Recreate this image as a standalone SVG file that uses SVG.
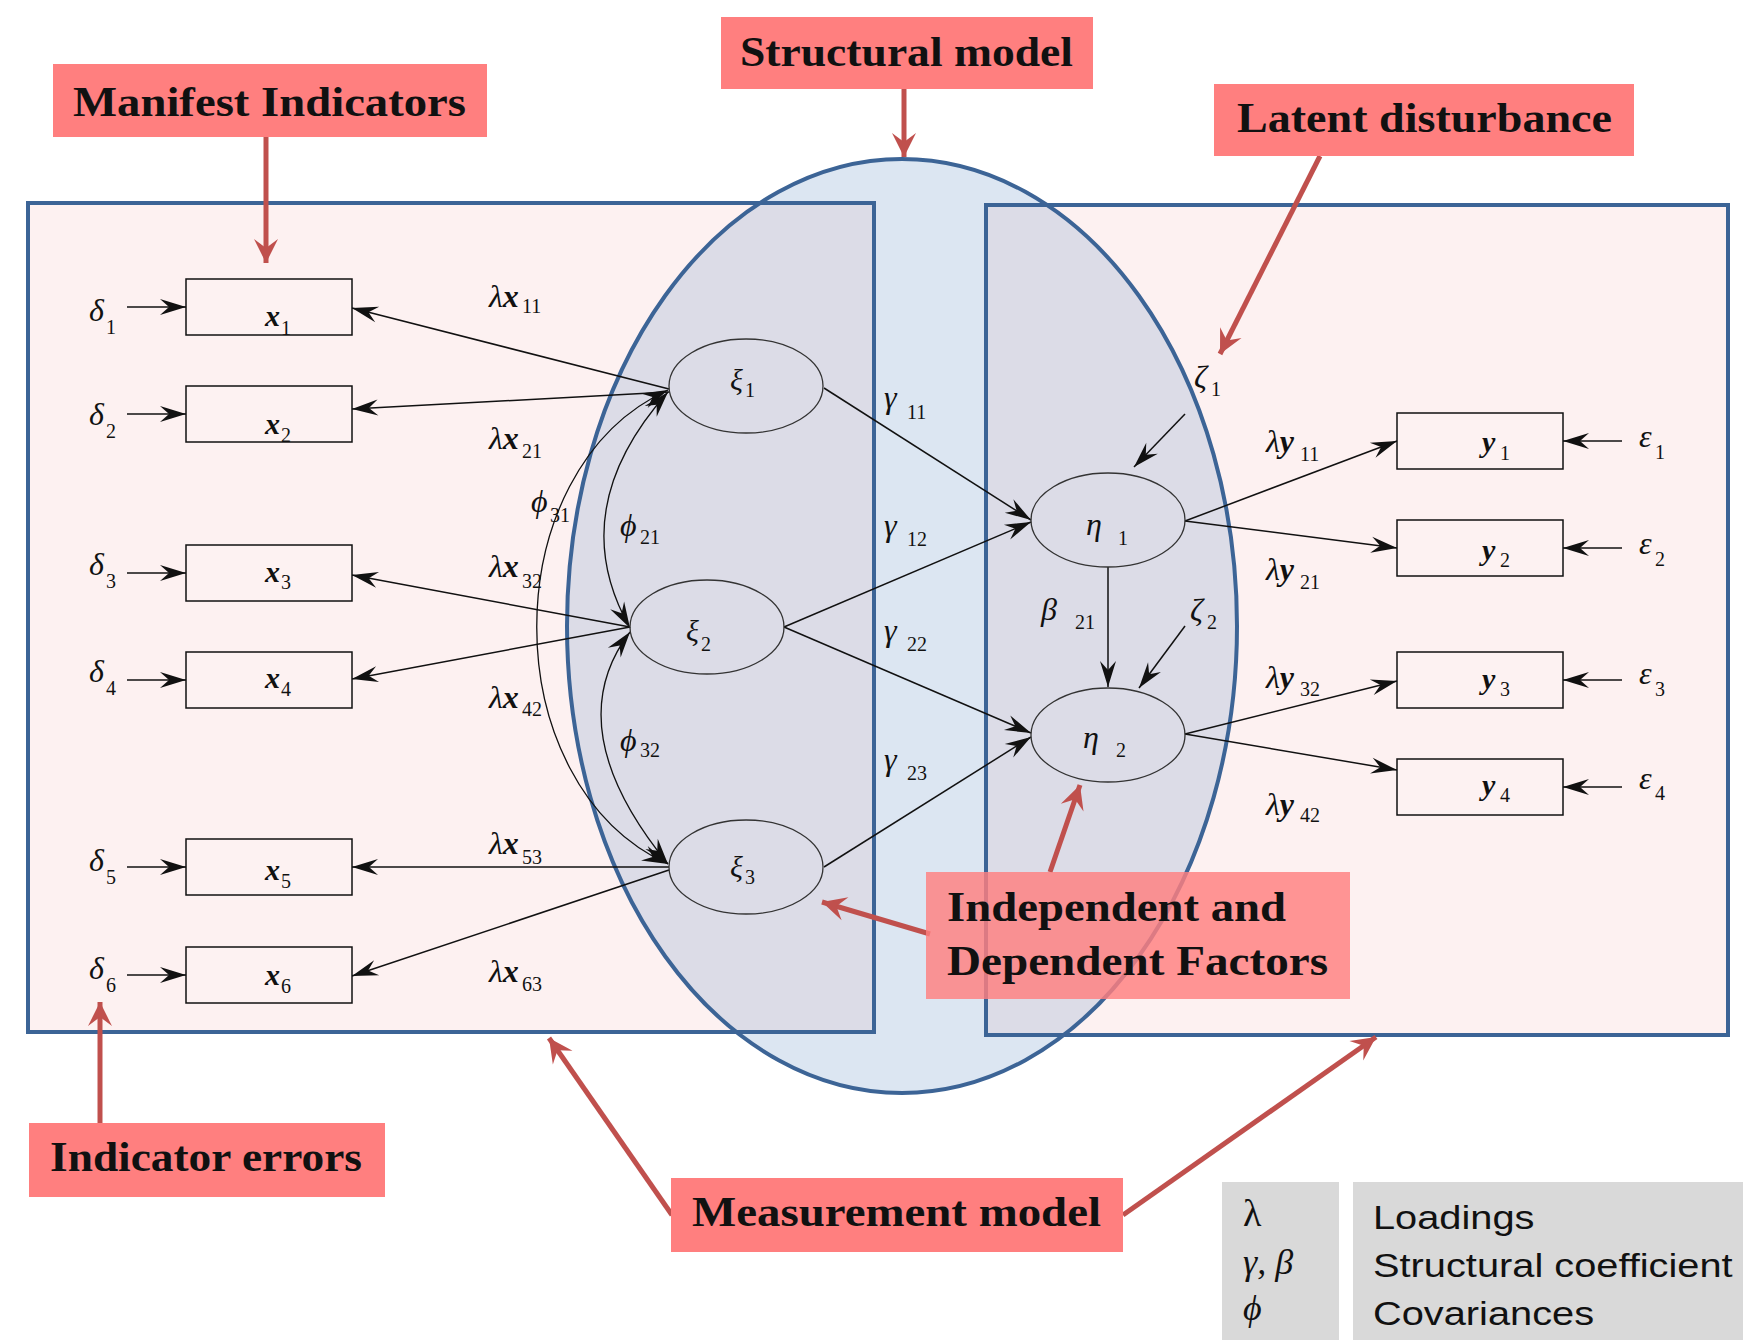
<svg xmlns="http://www.w3.org/2000/svg" width="1743" height="1340" viewBox="0 0 1743 1340">
<style>
.m{font-family:"Liberation Serif","DejaVu Serif",serif;font-style:italic;font-size:32px;fill:#111}
.b{font-weight:bold}
.s{font-size:20px;font-style:normal;font-weight:normal}
.bx{font-family:"Liberation Serif","DejaVu Serif",serif;font-style:italic;font-weight:bold;font-size:30px;fill:#111}
.ann{font-family:"Liberation Serif","DejaVu Serif",serif;font-weight:bold;font-size:43px;fill:#111}
.leg{font-family:"Liberation Sans",Arial,sans-serif;font-size:34px;fill:#111}
.box{fill:#fdf2f2;stroke:#111;stroke-width:1.5}
.node{fill:none;stroke:#333;stroke-width:1.3}
.c{fill:none;stroke:#111;stroke-width:1.5;marker-end:url(#ah)}
.cc{fill:none;stroke:#111;stroke-width:1.3;marker-end:url(#ah);marker-start:url(#ah)}
.r{fill:none;stroke:#c0504d;stroke-width:5;marker-end:url(#rh)}
.abox{fill:#ff7f7f}
.frame{fill:none;stroke:#3c6496;stroke-width:4}
</style>
<defs>
<marker id="ah" viewBox="-27 -9 28 18" refX="0" refY="0" markerWidth="28" markerHeight="18" markerUnits="userSpaceOnUse" orient="auto-start-reverse">
<path d="M0,0 L-26,-8 L-17,0 L-26,8 Z" fill="#111"/>
</marker>
<marker id="rh" viewBox="-25 -13 26 26" refX="0" refY="0" markerWidth="26" markerHeight="26" markerUnits="userSpaceOnUse" orient="auto">
<path d="M0,0 L-24,-12 L-15,0 L-24,12 Z" fill="#c0504d"/>
</marker>
<clipPath id="ellclip"><ellipse cx="902" cy="626" rx="335" ry="467"/></clipPath>
</defs>
<rect x="0" y="0" width="1743" height="1340" fill="#ffffff"/>

<g id="background">
<rect x="28" y="203" width="846" height="829" fill="#fdf1f1"/>
<rect x="986" y="205" width="742" height="830" fill="#fdf1f1"/>
<ellipse cx="902" cy="626" rx="335" ry="467" fill="#dce6f2"/>
<g clip-path="url(#ellclip)">
<rect x="28" y="203" width="846" height="829" fill="#dcdce7"/>
<rect x="986" y="205" width="742" height="830" fill="#dcdce7"/>
</g>
<rect class="frame" x="28" y="203" width="846" height="829"/>
<rect class="frame" x="986" y="205" width="742" height="830"/>
<ellipse class="frame" cx="902" cy="626" rx="335" ry="467"/>
</g>

<g id="connectors">
<path class="c" d="M127,307 L186,307"/>
<path class="c" d="M127,414 L186,414"/>
<path class="c" d="M127,573 L186,573"/>
<path class="c" d="M127,680 L186,680"/>
<path class="c" d="M127,867 L186,867"/>
<path class="c" d="M127,975 L186,975"/>
<path class="c" d="M1622,441 L1563,441"/>
<path class="c" d="M1622,548 L1563,548"/>
<path class="c" d="M1622,680 L1563,680"/>
<path class="c" d="M1622,787 L1563,787"/>
<path class="c" d="M669,389 L352,308"/>
<path class="c" d="M669,392 L352,409"/>
<path class="c" d="M630,627 L352,575"/>
<path class="c" d="M630,627 L352,679"/>
<path class="c" d="M669,867 L352,867"/>
<path class="c" d="M669,870 L352,976"/>
<path class="c" d="M824,388 L1031,520"/>
<path class="c" d="M784,627 L1031,522"/>
<path class="c" d="M784,627 L1031,733"/>
<path class="c" d="M824,867 L1031,737"/>
<path class="c" d="M1185,521 L1397,441"/>
<path class="c" d="M1185,521 L1397,548"/>
<path class="c" d="M1185,734 L1397,681"/>
<path class="c" d="M1185,734 L1397,770"/>
<path class="c" d="M1108,567 L1108,687"/>
<path class="c" d="M1185,414 L1134,467"/>
<path class="c" d="M1185,626 L1139,688"/>
<path class="cc" d="M668,392 Q563,510 630,628"/>
<path class="cc" d="M630,632 Q557,728 668,864"/>
<path class="cc" d="M668,390 C493,470 493,784 668,864"/>
<path class="r" d="M266,137 L266,263"/>
<path class="r" d="M904,89 L904,157"/>
<path class="r" d="M1320,156 L1220,354"/>
<path class="r" d="M100,1123 L100,1002"/>
<path class="r" d="M672,1215 L549,1038"/>
<path class="r" d="M1123,1215 L1376,1037"/>
<path class="r" d="M930,934 L822,902"/>
<path class="r" d="M1050,872 L1080,785"/>
</g>

<g id="x1"><rect class="box" x="186" y="279" width="166" height="56"/><text class="bx" x="265" y="326">x<tspan class="s" x="281" y="335">1</tspan></text></g>
<g id="x2"><rect class="box" x="186" y="386" width="166" height="56"/><text class="bx" x="265" y="434">x<tspan class="s" x="281" y="442">2</tspan></text></g>
<g id="x3"><rect class="box" x="186" y="545" width="166" height="56"/><text class="bx" x="265" y="582">x<tspan class="s" x="281" y="589">3</tspan></text></g>
<g id="x4"><rect class="box" x="186" y="652" width="166" height="56"/><text class="bx" x="265" y="688">x<tspan class="s" x="281" y="696">4</tspan></text></g>
<g id="x5"><rect class="box" x="186" y="839" width="166" height="56"/><text class="bx" x="265" y="880">x<tspan class="s" x="281" y="888">5</tspan></text></g>
<g id="x6"><rect class="box" x="186" y="947" width="166" height="56"/><text class="bx" x="265" y="985">x<tspan class="s" x="281" y="993">6</tspan></text></g>

<g id="y1"><rect class="box" x="1397" y="413" width="166" height="56"/><text class="bx" x="1482" y="452">y<tspan class="s" x="1500" y="460">1</tspan></text></g>
<g id="y2"><rect class="box" x="1397" y="520" width="166" height="56"/><text class="bx" x="1482" y="560">y<tspan class="s" x="1500" y="567">2</tspan></text></g>
<g id="y3"><rect class="box" x="1397" y="652" width="166" height="56"/><text class="bx" x="1482" y="689">y<tspan class="s" x="1500" y="696">3</tspan></text></g>
<g id="y4"><rect class="box" x="1397" y="759" width="166" height="56"/><text class="bx" x="1482" y="795">y<tspan class="s" x="1500" y="802">4</tspan></text></g>

<g id="xi1"><ellipse class="node" cx="746" cy="386" rx="77" ry="47"/><text class="m" x="730" y="390" style="font-size:30px">ξ<tspan class="s" x="745" y="397">1</tspan></text></g>
<g id="xi2"><ellipse class="node" cx="707" cy="627" rx="77" ry="47"/><text class="m" x="686" y="641" style="font-size:30px">ξ<tspan class="s" x="701" y="651">2</tspan></text></g>
<g id="xi3"><ellipse class="node" cx="746" cy="867" rx="77" ry="47"/><text class="m" x="730" y="877" style="font-size:30px">ξ<tspan class="s" x="745" y="884">3</tspan></text></g>
<g id="eta1"><ellipse class="node" cx="1108" cy="520" rx="77" ry="47"/><text class="m" x="1086" y="535">η<tspan class="s" x="1118" y="545">1</tspan></text></g>
<g id="eta2"><ellipse class="node" cx="1108" cy="735" rx="77" ry="47"/><text class="m" x="1083" y="748">η<tspan class="s" x="1116" y="757">2</tspan></text></g>

<g id="errors">
<text class="m" x="89" y="321">δ<tspan class="s" x="106" y="334">1</tspan></text>
<text class="m" x="89" y="425">δ<tspan class="s" x="106" y="438">2</tspan></text>
<text class="m" x="89" y="575">δ<tspan class="s" x="106" y="588">3</tspan></text>
<text class="m" x="89" y="682">δ<tspan class="s" x="106" y="695">4</tspan></text>
<text class="m" x="89" y="871">δ<tspan class="s" x="106" y="884">5</tspan></text>
<text class="m" x="89" y="979">δ<tspan class="s" x="106" y="992">6</tspan></text>
<text class="m" x="1639" y="447">ε<tspan class="s" x="1655" y="459">1</tspan></text>
<text class="m" x="1639" y="554">ε<tspan class="s" x="1655" y="566">2</tspan></text>
<text class="m" x="1639" y="684">ε<tspan class="s" x="1655" y="696">3</tspan></text>
<text class="m" x="1639" y="789">ε<tspan class="s" x="1655" y="800">4</tspan></text>
<text class="m" x="1194" y="388">ζ<tspan class="s" x="1211" y="396">1</tspan></text>
<text class="m" x="1190" y="621">ζ<tspan class="s" x="1207" y="629">2</tspan></text>
</g>

<g id="labels">
<text class="m" x="489" y="307">λ<tspan class="b">x</tspan><tspan class="s" x="522" y="313">11</tspan></text>
<text class="m" x="489" y="449">λ<tspan class="b">x</tspan><tspan class="s" x="522" y="458">21</tspan></text>
<text class="m" x="489" y="577">λ<tspan class="b">x</tspan><tspan class="s" x="522" y="588">32</tspan></text>
<text class="m" x="489" y="708">λ<tspan class="b">x</tspan><tspan class="s" x="522" y="716">42</tspan></text>
<text class="m" x="489" y="854">λ<tspan class="b">x</tspan><tspan class="s" x="522" y="864">53</tspan></text>
<text class="m" x="489" y="982">λ<tspan class="b">x</tspan><tspan class="s" x="522" y="991">63</tspan></text>
<text class="m" x="1266" y="452">λ<tspan class="b">y</tspan><tspan class="s" x="1300" y="461">11</tspan></text>
<text class="m" x="1266" y="580">λ<tspan class="b">y</tspan><tspan class="s" x="1300" y="589">21</tspan></text>
<text class="m" x="1266" y="688">λ<tspan class="b">y</tspan><tspan class="s" x="1300" y="696">32</tspan></text>
<text class="m" x="1266" y="815">λ<tspan class="b">y</tspan><tspan class="s" x="1300" y="822">42</tspan></text>
<text class="m" x="884" y="408">γ<tspan class="s" x="907" y="419">11</tspan></text>
<text class="m" x="884" y="536">γ<tspan class="s" x="907" y="546">12</tspan></text>
<text class="m" x="884" y="641">γ<tspan class="s" x="907" y="651">22</tspan></text>
<text class="m" x="884" y="770">γ<tspan class="s" x="907" y="780">23</tspan></text>
<text class="m" x="1041" y="620">β<tspan class="s" x="1075" y="629">21</tspan></text>
<text class="m" x="531" y="512">ϕ<tspan class="s" x="550" y="522">31</tspan></text>
<text class="m" x="620" y="536">ϕ<tspan class="s" x="640" y="544">21</tspan></text>
<text class="m" x="620" y="751">ϕ<tspan class="s" x="640" y="757">32</tspan></text>
</g>

<g id="ann-manifest"><rect class="abox" x="53" y="64" width="434" height="73"/><text class="ann" x="73" y="116" textLength="393" lengthAdjust="spacingAndGlyphs">Manifest Indicators</text></g>
<g id="ann-structural"><rect class="abox" x="721" y="17" width="372" height="72"/><text class="ann" x="740" y="66" textLength="333" lengthAdjust="spacingAndGlyphs">Structural model</text></g>
<g id="ann-latent"><rect class="abox" x="1214" y="84" width="420" height="72"/><text class="ann" x="1237" y="132" textLength="375" lengthAdjust="spacingAndGlyphs">Latent disturbance</text></g>
<g id="ann-errors"><rect class="abox" x="29" y="1123" width="356" height="74"/><text class="ann" x="50" y="1171" textLength="312" lengthAdjust="spacingAndGlyphs">Indicator errors</text></g>
<g id="ann-measurement"><rect class="abox" x="671" y="1178" width="452" height="74"/><text class="ann" x="692" y="1226" textLength="409" lengthAdjust="spacingAndGlyphs">Measurement model</text></g>
<g id="ann-factors"><rect class="abox" x="926" y="872" width="424" height="127" fill-opacity="0.82"/><text class="ann" x="947" y="921" textLength="339" lengthAdjust="spacingAndGlyphs">Independent and</text><text class="ann" x="947" y="975" textLength="381" lengthAdjust="spacingAndGlyphs">Dependent Factors</text></g>

<g id="legend">
<rect x="1222" y="1182" width="117" height="158" fill="#d9d9d9"/>
<rect x="1353" y="1182" width="390" height="158" fill="#d9d9d9"/>
<text x="1243" y="1226" style="font-family:'Liberation Serif',serif;font-size:38px;fill:#111">λ</text>
<text class="m" x="1243" y="1274" style="font-size:36px">γ, β</text>
<text class="m" x="1243" y="1320" style="font-size:36px">ϕ</text>
<text class="leg" transform="translate(1373,1229) scale(1.17,1)">Loadings</text>
<text class="leg" transform="translate(1373,1277) scale(1.17,1)">Structural  coefficient</text>
<text class="leg" transform="translate(1373,1325) scale(1.17,1)">Covariances</text>
</g>
</svg>
